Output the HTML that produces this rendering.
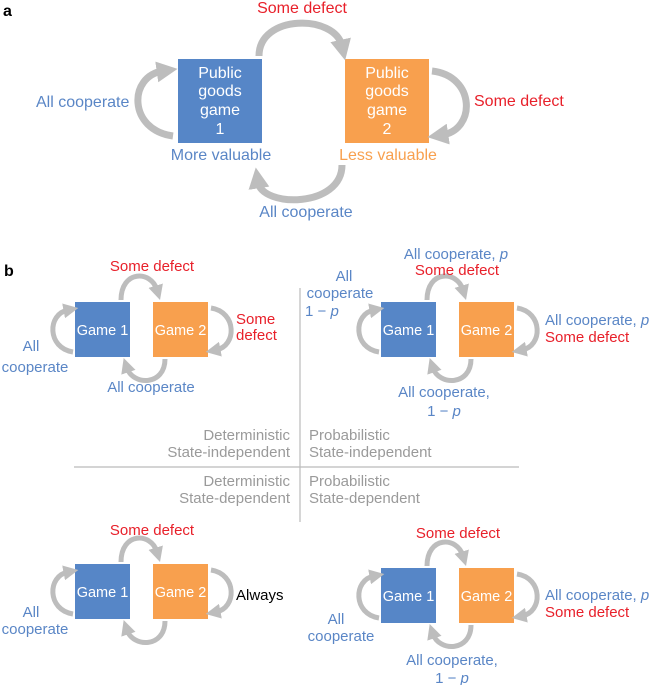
<!DOCTYPE html>
<html><head><meta charset="utf-8"><style>
html,body{margin:0;padding:0;background:#fff;}
svg{display:block;font-family:"Liberation Sans",Arial,sans-serif;}
.bl{fill:#5a86c6}.rd{fill:#e8202a}.gy{fill:#9a9a9a}.wt{fill:#fff}
.arr{fill:none;stroke:#bdbdbd;}
</style></head><body>
<svg width="649" height="685" viewBox="0 0 649 685" xmlns="http://www.w3.org/2000/svg">
<defs>
<marker id="h" viewBox="0 0 4 4" refX="1.2" refY="2" markerWidth="3" markerHeight="3" orient="auto" markerUnits="strokeWidth">
<path d="M0,0 L4,2 L0,4 z" fill="#bdbdbd"/></marker>
<g id="mini">
<rect x="0" y="0" width="55" height="55" fill="#5686c7"/>
<rect x="78" y="0" width="55" height="55" fill="#f8a04e"/>
<text x="27.5" y="33" font-size="14.5" text-anchor="middle" class="wt">Game 1</text>
<text x="105.5" y="33" font-size="14.5" text-anchor="middle" class="wt">Game 2</text>
<g class="arr" stroke-width="5" marker-end="url(#h)">
<path d="M46 -2 C46 -32 76 -32 82 -12"/>
<path d="M-2 50 C-28 46 -28 12 -7 8"/>
<path d="M136 6 C162 10 162 44 141 48"/>
<path d="M90 57 C90 84 58 84 52 66"/>
</g>
</g>
</defs>

<!-- panel a -->
<text x="3" y="16" font-size="16" font-weight="bold">a</text>
<rect x="178" y="59" width="84" height="84" fill="#5686c7"/>
<rect x="345" y="59" width="84" height="84" fill="#f8a04e"/>
<g font-size="16" text-anchor="middle" class="wt">
<text x="220" y="78">Public</text><text x="220" y="96">goods</text><text x="220" y="115">game</text><text x="220" y="134">1</text>
<text x="387" y="78">Public</text><text x="387" y="96">goods</text><text x="387" y="115">game</text><text x="387" y="134">2</text>
</g>
<g class="arr" stroke-width="7" marker-end="url(#h)">
<path d="M259 56 C259 14 335 14 342 46"/>
<path d="M173 136 C128 130 128 76 163 71"/>
<path d="M432 71 C476 76 476 130 442 135"/>
<path d="M342 165 C342 208 262 208 258 182"/>
</g>
<g font-size="16">
<text x="302" y="13" text-anchor="middle" class="rd">Some defect</text>
<text x="36" y="107" class="bl">All cooperate</text>
<text x="474" y="106" class="rd">Some defect</text>
<text x="221" y="160" text-anchor="middle" class="bl">More valuable</text>
<text x="388" y="160" text-anchor="middle" style="fill:#f8a04e">Less valuable</text>
<text x="306" y="217" text-anchor="middle" class="bl">All cooperate</text>
</g>

<!-- panel b -->
<text x="4" y="276" font-size="16" font-weight="bold">b</text>
<line x1="300" y1="288" x2="300" y2="522" stroke="#bbb" stroke-width="1.2"/>
<line x1="74" y1="467" x2="519" y2="467" stroke="#bbb" stroke-width="1.2"/>
<use href="#mini" x="75" y="302"/>
<use href="#mini" x="381" y="302"/>
<use href="#mini" x="75" y="564"/>
<use href="#mini" x="381" y="568"/>

<g font-size="15">
<!-- top-left -->
<text x="152" y="271" text-anchor="middle" class="rd">Some defect</text>
<text x="236" y="324" class="rd">Some</text><text x="236" y="340" class="rd">defect</text>
<text x="31" y="351" text-anchor="middle" class="bl">All</text>
<text x="35" y="372" text-anchor="middle" class="bl">cooperate</text>
<text x="151" y="392" text-anchor="middle" class="bl">All cooperate</text>
<!-- top-right -->
<text x="456" y="259" text-anchor="middle" class="bl">All cooperate, <tspan font-style="italic">p</tspan></text>
<text x="457" y="275" text-anchor="middle" class="rd">Some defect</text>
<text x="344" y="281" text-anchor="middle" class="bl">All</text>
<text x="340" y="298" text-anchor="middle" class="bl">cooperate</text>
<text x="305" y="316" class="bl">1 − <tspan font-style="italic">p</tspan></text>
<text x="545" y="325" class="bl">All cooperate, <tspan font-style="italic">p</tspan></text>
<text x="545" y="342" class="rd">Some defect</text>
<text x="444" y="397" text-anchor="middle" class="bl">All cooperate,</text>
<text x="444" y="416" text-anchor="middle" class="bl">1 − <tspan font-style="italic">p</tspan></text>
<!-- quadrant labels -->
<text x="290" y="440" text-anchor="end" class="gy">Deterministic</text>
<text x="290" y="457" text-anchor="end" class="gy">State-independent</text>
<text x="309" y="440" class="gy">Probabilistic</text>
<text x="309" y="457" class="gy">State-independent</text>
<text x="290" y="486" text-anchor="end" class="gy">Deterministic</text>
<text x="290" y="503" text-anchor="end" class="gy">State-dependent</text>
<text x="309" y="486" class="gy">Probabilistic</text>
<text x="309" y="503" class="gy">State-dependent</text>
<!-- bottom-left -->
<text x="152" y="535" text-anchor="middle" class="rd">Some defect</text>
<text x="236" y="600">Always</text>
<text x="31" y="617" text-anchor="middle" class="bl">All</text>
<text x="35" y="634" text-anchor="middle" class="bl">cooperate</text>
<!-- bottom-right -->
<text x="458" y="538" text-anchor="middle" class="rd">Some defect</text>
<text x="545" y="600" class="bl">All cooperate, <tspan font-style="italic">p</tspan></text>
<text x="545" y="617" class="rd">Some defect</text>
<text x="336" y="624" text-anchor="middle" class="bl">All</text>
<text x="341" y="641" text-anchor="middle" class="bl">cooperate</text>
<text x="452" y="665" text-anchor="middle" class="bl">All cooperate,</text>
<text x="452" y="683" text-anchor="middle" class="bl">1 − <tspan font-style="italic">p</tspan></text>
</g>
</svg>
</body></html>
